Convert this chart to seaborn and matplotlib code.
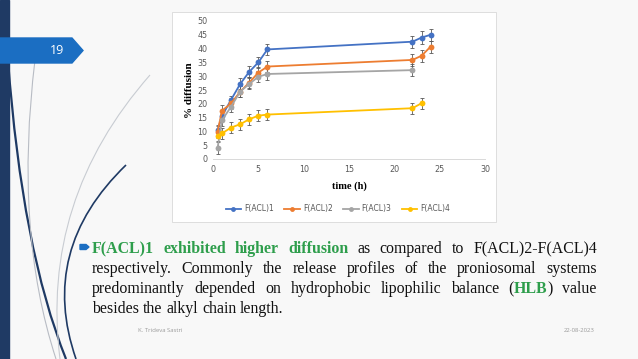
import numpy as np
import pandas as pd
import matplotlib
matplotlib.use("Agg")
import matplotlib.pyplot as plt
import seaborn as sns
from matplotlib.path import Path
from matplotlib.patches import PathPatch, Polygon, Rectangle

#------------------data-------------------
time1 = [0.5, 1, 2, 3, 4, 5, 6, 22, 23, 24]
acl1 = [10.5, 15.6, 21.5, 27.2, 31.6, 35.0, 39.7, 42.5, 44.0, 45.0]
acl2 = [9.9, 17.5, 20.2, 24.4, 27.7, 31.3, 33.5, 35.9, 37.4, 40.7]
time3 = [0.5, 1, 2, 3, 4, 5, 6, 22]
acl3 = [3.9, 14.1, 19.0, 24.4, 27.2, 29.8, 30.8, 32.2]
time4 = [0.5, 1, 2, 3, 4, 5, 6, 22, 23]
acl4 = [8.4, 9.3, 11.4, 12.6, 14.4, 15.7, 16.1, 18.4, 20.2]
err1 = [2.0, 2.0, 1.5, 2.0, 2.0, 2.0, 2.0, 2.2, 2.2, 2.2]
err2 = [2.2, 2.0, 2.0, 2.0, 2.0, 2.0, 2.0, 2.2, 2.2, 2.2]
err3 = [2.2, 2.0, 2.0, 2.0, 2.0, 2.0, 2.0, 2.2]
err4 = [1.8, 2.0, 2.0, 2.0, 2.0, 2.0, 2.0, 2.0, 2.0]

names = ["F(ACL)1", "F(ACL)2", "F(ACL)3", "F(ACL)4"]
colors = ["#4472C4", "#ED7D31", "#A5A5A5", "#FFC000"]

W, H = 638, 359
GREEN = "#2e9e4c"

def fx(px):
    return px / W

def fy(py):
    return 1 - py / H

def main():
    fig = plt.figure(figsize=(W / 100, H / 100), dpi=100)
    fig.patch.set_facecolor("#f8f8f8")

    #------------------slide decoration-------------------
    bg = fig.add_axes([0, 0, 1, 1])
    bg.set_xlim(0, W)
    bg.set_ylim(H, 0)
    bg.axis("off")
    bg.add_patch(Rectangle((0, 0), 9, H, color="#1f3a64", zorder=1))
    curves = [((8, 60), (22, 250), (66, 359), "#1f3a64", 1.6),
              ((126, 165), (38, 250), (76, 359), "#1f3a64", 1.2),
              ((35, 60), (14, 230), (56, 359), "#b8bcc4", 0.8),
              ((150, 75), (40, 200), (60, 359), "#c8ccd2", 0.8)]
    for p0, c, p1, col, lw in curves:
        path = Path([p0, c, p1], [Path.MOVETO, Path.CURVE3, Path.CURVE3])
        bg.add_patch(PathPatch(path, fill=False, edgecolor=col, lw=lw, zorder=2))
    bg.add_patch(Polygon([(0, 38), (72, 38), (83, 50.5), (72, 63), (0, 63)],
                         closed=True, color="#1b6ec2", zorder=3))
    bg.text(57, 51, "19", color="white", fontsize=9, ha="center", va="center",
            family="Open Sans", zorder=4)
    #bullet
    bg.add_patch(Polygon([(80, 244.5), (86, 244.5), (89, 247), (86, 249.5), (80, 249.5)],
                         closed=True, color="#1b6ec2", zorder=3))
    #chart box
    bg.add_patch(Rectangle((172, 12), 324, 210, facecolor="white",
                           edgecolor="#d9d9d9", lw=0.6, zorder=3))

    #------------------chart-------------------
    rows = []
    for nm, t, v in zip(names, [time1, time1, time3, time4], [acl1, acl2, acl3, acl4]):
        for a, b in zip(t, v):
            rows.append({"time": a, "diff": b, "form": nm})
    df = pd.DataFrame(rows)

    ax = fig.add_axes([fx(213), fy(159), fx(272), 138 / H])
    ax.set_zorder(5)
    ax.patch.set_alpha(0)
    for nm, t, v, e in zip(names, [time1, time1, time3, time4],
                           [acl1, acl2, acl3, acl4], [err1, err2, err3, err4]):
        ax.errorbar(t, v, yerr=e, fmt="none", ecolor="#595959", elinewidth=0.6,
                    capsize=1.6, capthick=0.6, zorder=1)
    sns.lineplot(data=df, x="time", y="diff", hue="form", palette=colors,
                 marker="o", markersize=4.2, markeredgewidth=0, linewidth=1.3,
                 estimator=None, sort=True, legend=False, ax=ax, zorder=2)
    ax.set_xlim(0, 30)
    ax.set_ylim(0, 50)
    ax.set_xticks(range(0, 31, 5))
    ax.set_yticks(range(0, 51, 5))
    ax.tick_params(length=0, labelsize=5.8, labelcolor="#595959", pad=4)
    for s in ["top", "right", "left"]:
        ax.spines[s].set_visible(False)
    ax.spines["bottom"].set_color("#d9d9d9")
    ax.spines["bottom"].set_linewidth(0.7)
    ax.set_xlabel("")
    ax.set_ylabel("")
    fig.text(fx(190), fy(90), "% diffusion", rotation=90, fontsize=8,
             fontweight="bold", family="Liberation Serif", ha="center", va="center")
    fig.text(fx(349), fy(186), "time (h)", fontsize=7.5, fontweight="bold",
             family="Liberation Serif", ha="center", va="center")

    handles = [plt.Line2D([], [], color=c, lw=1.3, marker="o", markersize=3.5,
                          markeredgewidth=0) for c in colors]
    leg = fig.legend(handles, names, loc="center", bbox_to_anchor=(fx(338), fy(209)),
                     ncol=4, frameon=False, fontsize=5.5, handlelength=2.0,
                     handletextpad=0.4, columnspacing=1.4)
    for t in leg.get_texts():
        t.set_color("#595959")

    #------------------body text (justified)-------------------
    K = "#111111"
    lines = [
        [[("F(ACL)1", GREEN, "bold")], [("exhibited", GREEN, "bold")],
         [("higher", GREEN, "bold")], [("diffusion", GREEN, "bold")],
         [("as", K, "normal")], [("compared", K, "normal")], [("to", K, "normal")],
         [("F(ACL)2-F(ACL)4", K, "normal")]],
        [[(w, K, "normal")] for w in
         "respectively. Commonly the release profiles of the proniosomal systems".split()],
        [[(w, K, "normal")] for w in
         "predominantly depended on hydrophobic lipophilic balance".split()]
        + [[("(", K, "normal"), ("HLB", GREEN, "bold"), (")", K, "normal")],
           [("value", K, "normal")]],
        [[(w, K, "normal")] for w in "besides the alkyl chain length.".split()],
    ]
    baselines = [253, 273, 293, 313]
    x0, x1 = 92, 597
    fs = 11.4
    renderer = fig.canvas.get_renderer()
    for li, (words, base) in enumerate(zip(lines, baselines)):
        objs = []
        widths = []
        for word in words:
            segs = []
            wsum = 0
            for txt, col, wt in word:
                t = fig.text(0, fy(base), txt, fontsize=fs, color=col, fontweight=wt,
                             family="Liberation Serif", va="baseline", ha="left")
                w = t.get_window_extent(renderer).width
                segs.append((t, w))
                wsum += w
            objs.append(segs)
            widths.append(wsum)
        if li < len(lines) - 1:
            gap = (x1 - x0 - sum(widths)) / (len(words) - 1)
        else:
            gap = fs * 100 / 72 * 0.25
        x = x0
        for segs, w in zip(objs, widths):
            xx = x
            for t, sw in segs:
                t.set_x(fx(xx))
                xx += sw
            x += w + gap

    #------------------footer-------------------
    fig.text(fx(138), fy(330), "K. Trideva Sastri", fontsize=4.3, color="#9a9a9a",
             family="Open Sans", va="center", ha="left")
    fig.text(fx(595), fy(330), "22-08-2023", fontsize=4.3, color="#9a9a9a",
             family="Open Sans", va="center", ha="right")

    fig.savefig("out.png", dpi=100, facecolor=fig.get_facecolor())


if __name__ == '__main__':
    main()
